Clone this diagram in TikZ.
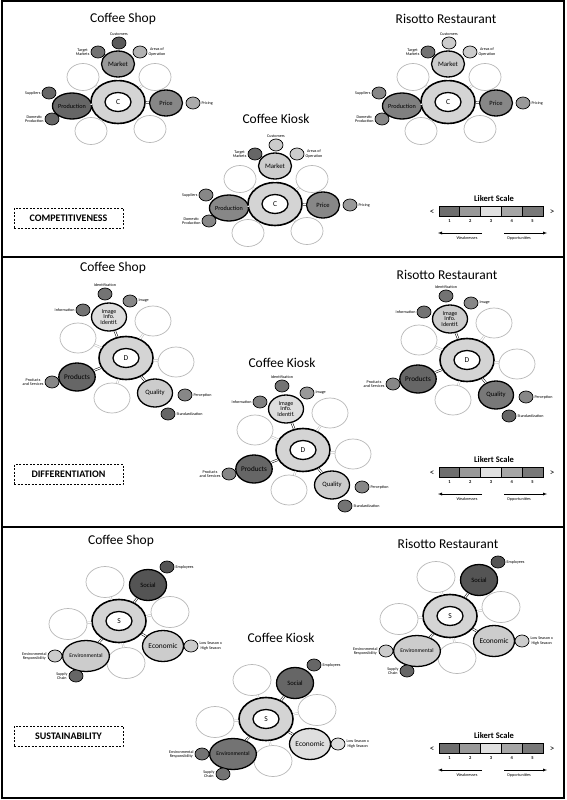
\documentclass[tikz,border=0pt]{standalone}
\usepackage{fontspec}
\setmainfont{Carlito}
\usetikzlibrary{positioning, arrows, shapes.geometric}
\tikzset{
  x=1pt, y=-1pt,
  ring/.style={ellipse, draw, line width=1.6pt, fill=black!17, minimum width=54pt, minimum height=43pt},
  core/.style={ellipse, draw, line width=1.3pt, fill=white, minimum width=26pt, minimum height=19pt, font=\fontsize{7.5}{8}\selectfont},
  main/.style={ellipse, draw, line width=1.3pt, inner sep=0pt, align=center, minimum width=33pt, minimum height=26pt},
  blank/.style={ellipse, draw=black!28, line width=0.7pt, fill=white, minimum width=32pt, minimum height=27pt},
  dot/.style={ellipse, draw, line width=0.7pt, minimum width=14pt, minimum height=12pt},
  tag/.style={inner sep=0pt, align=center, font=\fontsize{4.1}{4.2}\selectfont},
  link/.style={draw=black, line width=0.5pt, double=white, double distance=1.2pt},
  blanklink/.style={link, draw=black!28},
  title/.style={font=\fontsize{13.5}{15}\selectfont},
  theme/.style={draw, dash pattern=on 2pt off 1.5pt, line width=0.7pt, minimum width=109pt, minimum height=20pt, font=\bfseries\fontsize{10}{11}\selectfont},
  frame/.style={line width=1.3pt},
  lkhead/.style={font=\bfseries\fontsize{8.5}{9}\selectfont},
  lkcell/.style={draw, line width=0.8pt, minimum width=20.8pt, minimum height=10pt, inner sep=0pt},
  lknum/.style={font=\bfseries\fontsize{4.5}{5}\selectfont, inner sep=0pt},
  lkword/.style={font=\fontsize{4.2}{4.5}\selectfont, inner sep=0pt},
  lkarrow/.style={-latex, line width=0.4pt},
}

% competitiveness wheel: name, centre, main shades, small shades
\newcommand{\compwheel}[4]{%
  \begin{scope}[shift={(#2)}]
    \node[ring] (#1) at (0,0) {};
    \node[core] (#1core) at (0,0) {C};
    \foreach \p [count=\i] in {(-35,-25),(37,-25),(-27,29),(32,27)} {
      \node[blank] (#1b\i) at \p {};
      \draw[blanklink] (#1) -- (#1b\i);
    }
    \foreach \p/\t/\f [count=\i from 0] in {(0,-38)/Market/6.8,(-46,4)/Production/6.2,(48,1)/Price/6.5} {
      \pgfmathtruncatemacro\tone{{#3}[\i]}
      \node[main, fill=black!\tone, font=\fontsize{\f}{5}\selectfont] (#1m\i) at \p {\t};
      \draw[link] (#1) -- (#1m\i);
    }
    \foreach \p/\d/\t [count=\i from 0] in {(1,-59)/above/Customers,(-20,-50)/left/{Target\\Markets},
        (22,-50)/right/{Areas of\\Operation},(-69,-9)/left/Suppliers,(-66,17)/left/{Domestic\\Production},(75,1)/right/Pricing} {
      \pgfmathtruncatemacro\tone{{#4}[\i]}
      \node[dot, fill=black!\tone] (#1d\i) at \p {};
      \node[tag, \d=1pt of #1d\i] (#1t\i) {\t};
    }
  \end{scope}}

% differentiation wheel
\newcommand{\diffwheel}[4]{%
  \begin{scope}[shift={(#2)}, main/.append style={minimum width=35pt, minimum height=28pt},
      blank/.append style={minimum width=36pt, minimum height=30pt}]
    \node[ring] (#1) at (0,0) {};
    \node[core] (#1core) at (0,0) {D};
    \foreach \p [count=\i] in {(-48,-20),(27,-37),(50,4),(-14,40)} {
      \node[blank] (#1b\i) at \p {};
      \draw[blanklink] (#1) -- (#1b\i);
    }
    \foreach \p/\t/\f [count=\i from 0] in {(-17,-41)/{Image\\Info.\\Identif.}/6,(-49,19)/Products/7.2,(29,35)/Quality/6.6} {
      \pgfmathtruncatemacro\tone{{#3}[\i]}
      \node[main, fill=black!\tone, font=\fontsize{\f}{5.4}\selectfont] (#1m\i) at \p {\t};
      \draw[link] (#1) -- (#1m\i);
    }
    \foreach \p/\d/\t [count=\i from 0] in {(-21,-64)/above/Identification,(4,-57)/right/Image,(-43,-48)/left/Information,
        (-74,24)/left/{Products\\and Services},(59,37)/right/Perception,(42,56)/right/Standardization} {
      \pgfmathtruncatemacro\tone{{#4}[\i]}
      \node[dot, fill=black!\tone] (#1d\i) at \p {};
      \node[tag, \d=1pt of #1d\i] (#1t\i) {\t};
    }
  \end{scope}}

% sustainability wheel
\newcommand{\sustwheel}[4]{%
  \begin{scope}[shift={(#2)}, main/.append style={minimum width=37pt, minimum height=31pt},
      blank/.append style={minimum width=38pt, minimum height=31pt}]
    \node[ring] (#1) at (0,0) {};
    \node[core] (#1core) at (0,0) {S};
    \foreach \p [count=\i] in {(-14,-39),(51,-9),(-51,3),(7,42)} {
      \node[blank] (#1b\i) at \p {};
      \draw[blanklink] (#1) -- (#1b\i);
    }
    \foreach \p/\t/\f [count=\i from 0] in {(29,-36)/Social/6.6,(44,25)/Economic/7.4,(-33,35)/Environmental/5.6} {
      \pgfmathtruncatemacro\tone{{#3}[\i]}
      \node[main, fill=black!\tone, font=\fontsize{\f}{5}\selectfont] (#1m\i) at \p {\t};
      \draw[link] (#1) -- (#1m\i);
    }
    \foreach \p/\d/\t [count=\i from 0] in {(48,-54)/right/Employees,(72,25)/right/{Low Season x\\High Season},
        (-64,35)/left/{Environmental\\Responsibility},(-43,55)/left/{Supply\\Chain}} {
      \pgfmathtruncatemacro\tone{{#4}[\i]}
      \node[dot, fill=black!\tone] (#1d\i) at \p {};
      \node[tag, \d=1pt of #1d\i] (#1t\i) {\t};
    }
  \end{scope}}

% likert legend: name, top
\newcommand{\likert}[2]{%
  \node[lkhead] (#1) at (494,#2) {Likert Scale};
  \foreach \tone [count=\i] in {57,40,12,35,53} {
    \node[lkcell, fill=black!\tone] (#1c\i) at (428.6+20.8*\i,#2+12) {};
    \node[lknum, below=3pt of #1c\i] (#1n\i) {\i};
  }
  \node[font=\fontsize{9}{9}\selectfont] (#1l) at (432,#2+13) {<};
  \node[font=\fontsize{9}{9}\selectfont] (#1r) at (552,#2+13) {>};
  \coordinate (#1wa) at (482,#2+34);
  \coordinate (#1wb) at (438,#2+34);
  \coordinate (#1oa) at (504,#2+34);
  \coordinate (#1ob) at (547,#2+34);
  \draw[lkarrow] (#1wa) -- (#1wb);
  \draw[lkarrow] (#1oa) -- (#1ob);
  \node[lkword] (#1w) at (467,#2+39) {Weaknesses};
  \node[lkword] (#1o) at (519,#2+39) {Opportunities};
}

\begin{document}
\begin{tikzpicture}
  \useasboundingbox (0,0) rectangle (567,800);
  \draw[frame] (2,1) rectangle (564,798);
  \draw[frame] (2,257) -- (564,257);
  \draw[frame] (2,527) -- (564,527);

  % competitiveness
  \node[title] (ctshop) at (123,19) {Coffee Shop};
  \node[title] (ctrest) at (446,19) {Risotto Restaurant};
  \node[title] (ctkiosk) at (276,119) {Coffee Kiosk};
  \compwheel{cshop}{118,102}{40,60,47}{65,55,30,60,60,33}
  \compwheel{crest}{448,102}{20,50,47}{20,55,20,47,47,40}
  \compwheel{ckiosk}{275,204}{20,47,47}{20,60,20,47,47,40}
  \node[theme] (comp) at (68.5,218) {COMPETITIVENESS};
  \likert{lkc}{199}

  % differentiation
  \node[title] (dtshop) at (113,268) {Coffee Shop};
  \node[title] (dtrest) at (447,275) {Risotto Restaurant};
  \node[title] (dtkiosk) at (282,363) {Coffee Kiosk};
  \diffwheel{dshop}{126,358}{13,60,20}{55,47,55,47,47,60}
  \diffwheel{drest}{467,360}{20,60,53}{55,47,55,47,47,60}
  \diffwheel{dkiosk}{303,450}{13,60,20}{55,40,50,47,47,55}
  \node[theme] (diff) at (68.5,474.5) {DIFFERENTIATION};
  \likert{lkd}{460}

  % sustainability
  \node[title] (stshop) at (121,541) {Coffee Shop};
  \node[title] (strest) at (448,544) {Risotto Restaurant};
  \node[title] (stkiosk) at (281,638) {Coffee Kiosk};
  \sustwheel{sshop}{119,621}{67,20,20}{67,20,20,60}
  \sustwheel{srest}{450,616}{67,20,20}{67,20,20,60}
  \sustwheel{skiosk}{266,719}{60,13,55}{60,13,55,55}
  \node[theme] (sust) at (68.5,736) {SUSTAINABILITY};
  \likert{lks}{736}
\end{tikzpicture}
\end{document}
